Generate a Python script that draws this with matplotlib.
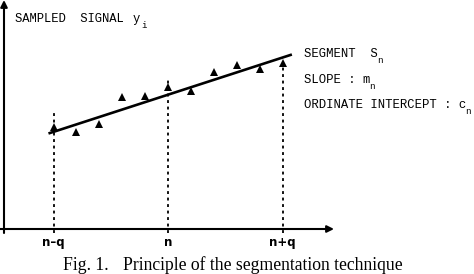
import matplotlib
matplotlib.use("Agg")
import matplotlib.pyplot as plt
import numpy as np

# ---- data ----
sample_offsets = [-5, -4, -3, -2, -1, 0, 1, 2, 3, 4, 5]          # i - n
signal_values = [10.17, 9.67, 10.47, 13.17, 13.30, 14.23, 13.80, 15.73, 16.43, 15.97, 16.63]
segment_slope = 0.743        # m_n
segment_intercept = 13.43    # c_n (value at sample n)
tick_offsets = [-5, 0, 5]
tick_labels = ["n\u2013q", "n", "n+q"]
guide_tops = [11.9, 15.2, 16.7]

# ---- layout (pixel mapping) ----
W, H = 474, 274
X0PX, DX = 168.0, 22.9     # pixel x of sample n, pixels per sample
Y0PX, DY = 229.0, 10.0     # pixel y of zero level, pixels per unit

def px(x, y):
    return ((x - X0PX) / DX, (Y0PX - y) / DY)

fig = plt.figure(figsize=(W / 100, H / 100), dpi=100)
ax = fig.add_axes([0, 0, 1, 1])
ax.axis("off")
ax.set_xlim(-X0PX / DX, (W - X0PX) / DX)
ax.set_ylim((Y0PX - H) / DY, Y0PX / DY)

# axes with arrows
ax.annotate("", xy=px(334, 229), xytext=px(0, 229),
            arrowprops=dict(arrowstyle="-|>", lw=1.5, color="black",
                            mutation_scale=10, shrinkA=0, shrinkB=0))
ax.annotate("", xy=px(4, 0), xytext=px(4, 233),
            arrowprops=dict(arrowstyle="-|>", lw=1.5, color="black",
                            mutation_scale=10, shrinkA=0, shrinkB=0))

# dotted guides
bottom = px(0, 233)[1]
for k, top in zip(tick_offsets, guide_tops):
    ax.plot([k, k], [bottom, top], color="black", lw=1.3,
            linestyle=(0, (1.6, 2.0)), solid_capstyle="butt")

# fitted segment
k_start, k_end = -5.22, 5.41
ks = np.array([k_start, k_end])
ax.plot(ks, segment_intercept + segment_slope * ks, color="black", lw=1.9,
        solid_capstyle="butt")

# samples
ax.plot(sample_offsets, signal_values, linestyle="none", marker="^",
        ms=5.8, color="black", markeredgewidth=0)

# tick labels
for k, lab in zip(tick_offsets, tick_labels):
    ax.text(k, px(0, 242.5)[1], lab, ha="center", va="center",
            fontsize=8.5, fontweight="bold", family="DejaVu Sans")

# typewriter labels
MONO = "Liberation Mono"
FS = 8.8

def mono(x, y, s, sub=None, fs=FS):
    ax.text(*px(x, y), s, ha="left", va="baseline", fontsize=fs, family=MONO)
    if sub:
        sx = x + len(s) * 0.6 * fs * 100 / 72 - 0.5
        ax.text(*px(sx, y + 6), sub, ha="left", va="baseline",
                fontsize=fs * 0.75, family=MONO)

mono(15, 22, "SAMPLED  SIGNAL ", sub=None, fs=8.7)
ax.text(*px(133, 22), "y", ha="left", va="baseline", fontsize=8.7, family=MONO)
ax.text(*px(141.5, 28), "i", ha="left", va="baseline", fontsize=6.5, family=MONO)

mono(304, 57, "SEGMENT  S", sub="n")
mono(304, 83, "SLOPE : m", sub="n")
mono(304, 108, "ORDINATE INTERCEPT : c", sub="n")

# caption
CAP_BASE = 269.5
fig.text(63 / W, 1 - CAP_BASE / H, "Fig. 1.", ha="left", va="baseline",
         fontsize=12.7, family="Liberation Serif")
fig.text(123 / W, 1 - CAP_BASE / H, "Principle of the segmentation technique",
         ha="left", va="baseline", fontsize=12.7, family="Liberation Serif")

fig.savefig("out.png", dpi=100)
